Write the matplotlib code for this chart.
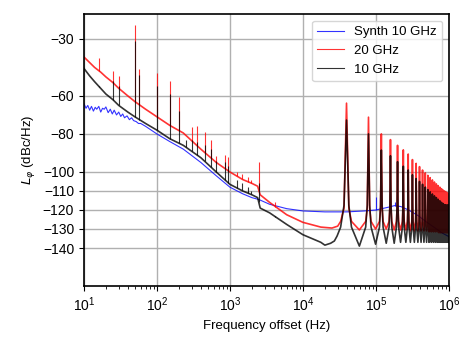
import numpy as np
import matplotlib
matplotlib.use('Agg')
import matplotlib.pyplot as plt

plt.rcParams['font.family'] = ['Liberation Sans', 'DejaVu Sans']
plt.rcParams['font.size'] = 9.5

# ---- data (frequency in Hz, level in dBc/Hz) ----
synth_f = [10, 10.7, 11.3, 12, 12.7, 13.5, 14.3, 15, 16, 17, 18, 19, 20, 21.5, 23,
           24.5, 26, 28, 30, 32, 34, 36, 39, 42, 45, 48, 52, 56, 60, 70, 80, 100,
           150, 230, 400, 650, 1000, 1500, 2000, 2500, 3500, 6000, 1e4, 2e4, 4e4,
           7e4, 1e5, 1.5e5, 1.8e5, 2.2e5, 2.8e5, 3.8e5, 4.8e5, 6.5e5, 8e5, 1e6]
synth_db = [-64, -66.5, -65, -67.5, -65.5, -68, -66, -67, -65.5, -68.5, -66.5, -67,
            -65.8, -68.8, -67, -69.5, -67.5, -70, -68.5, -70.8, -69.5, -71.5, -70.5,
            -72.5, -71.5, -73, -73.5, -74.5, -74.5, -76, -77.5, -80,
            -84, -88, -95, -102, -108, -111.5, -113.5, -114.5, -117, -119.3, -120.5,
            -121, -121, -120.5, -120, -118.5, -117.7, -118.2, -120, -123, -126,
            -129.5, -132, -134]
synth_spur_f = [1e5, 1.8e5]
synth_spur_db = [-113, -116]

red_f = [10, 12, 14, 17, 20, 25, 30, 40, 50, 70, 100, 150, 230, 400, 650, 1000,
         1500, 2000, 2400, 2600, 3500, 6000, 1e4, 1.76e4, 2.5e4, 3e4]
red_db = [-39.5, -42.5, -45, -47.5, -50, -53, -56, -60, -63, -67, -71, -75.5,
          -79.5, -88, -95, -100, -104, -106, -107.5, -112, -116, -122.5, -126.5,
          -129, -129.5, -128.5]

black_f = [10, 12, 14, 17, 20, 25, 30, 40, 50, 70, 100, 150, 230, 400, 650, 1000,
           1500, 2000, 2400, 2600, 3500, 6000, 1e4, 1.76e4, 2e4, 2.4e4, 2.7e4, 2.94e4]
black_db = [-45.5, -49.5, -52.5, -56, -59, -62, -65, -68.5, -71, -74.5, -78, -82.5,
            -86, -92.5, -100, -106.5, -110, -112, -113.5, -119, -121.5, -127.6, -133,
            -137, -138.5, -137.5, -136.3, -133.7]

spur_f = [16.3, 25, 30, 50, 57.5, 100, 150, 200, 250, 300, 350, 450, 550, 650,
          850, 950, 1250, 1450, 1750, 1950, 2480, 4200]
red_spur_db = [-40, -47, -49.7, -22.6, -46, -48, -52, -60.5, -80.5, -76.5, -76,
               -79, -83, -91.5, -91, -92, -100, -101, -102.5, -104, -95, -116]
black_spur_db = [-55, -52, -54.6, -31, -49, -55, -59, -68, -83, -83, -84, -86,
                 -88, -94, -95, -97, -104, -106, -108, -110, -106, -123]

# resonance comb (harmonics of ~39.6 kHz)
comb_f0 = 39.6e3
red_peak_db = [-63.8, -71.2, -80, -83, -86, -88.4, -90.6, -93.5, -95.5, -97.2,
               -99, -100.5, -101.8, -103, -104.2, -105.3, -106.3, -107.2, -108,
               -108.8, -109.5, -110, -110.5, -111, -111.3]
black_peak_db = [-72.7, -80, -88.5, -91.5, -94.6, -97, -99, -101.5, -103.5, -105,
                 -106.5, -108, -109.3, -110.5, -111.6, -112.6, -113.5, -114.4,
                 -115.2, -116, -116.6, -117.2, -117.7, -118.2, -118.6]
red_valley_db = [-130.5, -130, -130, -130.5, -130.5, -130.5, -131, -131, -131, -131,
                 -131, -131, -131.5, -131.5, -131.5, -131.5, -131.5, -132, -132,
                 -132, -132, -132, -132, -132, -132]
black_valley_db = [-139, -138, -137.5, -137.5, -137, -137, -137, -137, -137, -137,
                   -137, -137, -137, -137, -137, -137, -137, -137, -137, -137,
                   -137, -137, -137, -137, -137]
comb_offsets = [3e3, 6.7e3]
red_shoulder_db = [-119, -126]
black_shoulder_db = [-117.5, -129]


def with_comb(f, db, peaks, valleys, shoulders):
    f = list(f)
    db = list(db)
    for n, (pk, va) in enumerate(zip(peaks, valleys), start=1):
        fc = n * comb_f0
        f += [fc - comb_offsets[1], fc - comb_offsets[0], fc,
              fc + comb_offsets[0], fc + comb_offsets[1]]
        db += [shoulders[1], shoulders[0], pk, shoulders[0], shoulders[1]]
        f.append(min(fc + comb_f0 / 2, 1e6))
        db.append(va)
    return np.array(f), np.array(db)


red_all_f, red_all_db = with_comb(red_f, red_db, red_peak_db, red_valley_db, red_shoulder_db)
black_all_f, black_all_db = with_comb(black_f, black_db, black_peak_db, black_valley_db,
                                      black_shoulder_db)


def foot(fs, f, db):
    return np.interp(np.log10(fs), np.log10(f), db)


fig = plt.figure(figsize=(4.74, 3.54), dpi=100)
ax = fig.add_axes([0.177, 0.192, 0.77, 0.768])

al = 0.8
ax.plot(synth_f, synth_db, color='b', lw=0.8, alpha=al, label='Synth 10 GHz')
ax.vlines(synth_spur_f, foot(synth_spur_f, synth_f, synth_db), synth_spur_db,
          color='b', lw=0.8, alpha=al)
ax.plot(red_all_f, red_all_db, color='r', lw=1.2, alpha=al, label='20 GHz')
ax.vlines(spur_f, foot(spur_f, red_all_f, red_all_db), red_spur_db,
          color='r', lw=0.8, alpha=al)
ax.plot(black_all_f, black_all_db, color='k', lw=1.2, alpha=al, label='10 GHz')
ax.vlines(spur_f, foot(spur_f, black_all_f, black_all_db), black_spur_db,
          color='k', lw=0.8, alpha=al)

ax.set_xscale('log')
ax.set_xlim(10, 1e6)
ax.set_ylim(-160, -17)
ax.set_yticks([-30, -60, -80, -100, -110, -120, -130, -140])
ax.tick_params(labelsize=10)
ax.grid(True, color='#b0b0b0', lw=1)
ax.set_axisbelow(True)
for s in ax.spines.values():
    s.set_linewidth(1.2)
ax.set_xlabel('Frequency offset (Hz)')
ax.set_ylabel(r'$L_\varphi$ (dBc/Hz)')
leg = ax.legend(loc='upper right')
for h in leg.get_lines():
    h.set_linewidth(0.8)

fig.savefig('out.png', dpi=100)
